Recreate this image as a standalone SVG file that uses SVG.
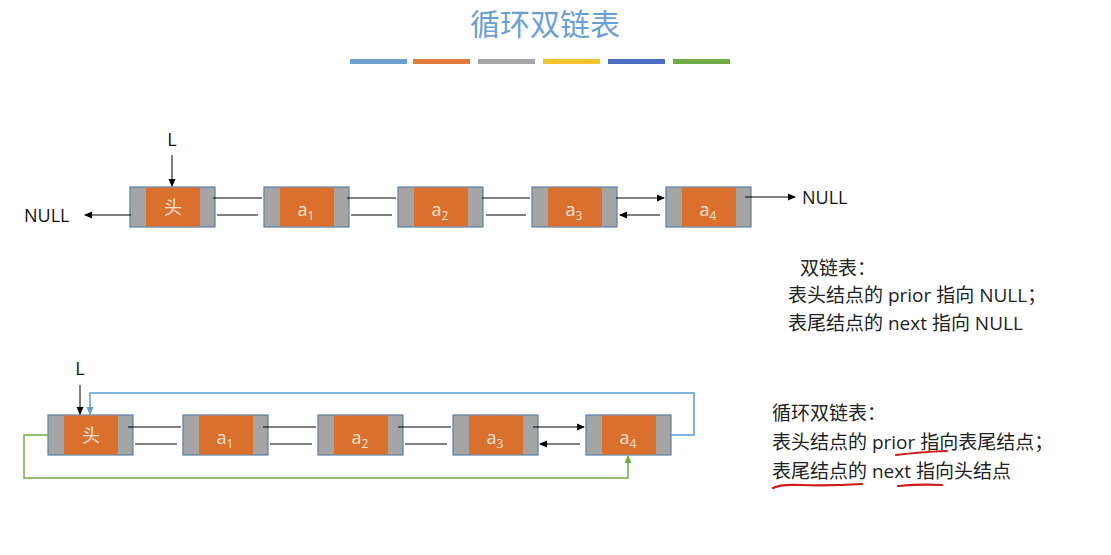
<svg xmlns="http://www.w3.org/2000/svg" width="1111" height="555" viewBox="0 0 1111 555">
<style>
.g{fill:#a5a5a5;stroke:#5b7fa6;stroke-width:1.2}
.o{fill:#d9702e}
.nt{font-family:"Open Sans","Noto Sans CJK SC",sans-serif;font-size:18px;fill:#f5e0d0;text-anchor:middle}
.sub{font-size:12px}
.t{font-family:"Open Sans","Noto Sans CJK SC",sans-serif;font-size:19px;fill:#222}
.a{stroke:#000;stroke-width:1;fill:none;marker-end:url(#ah)}
</style>
<defs>
<marker id="ah" markerWidth="8" markerHeight="8" refX="7" refY="4" orient="auto" markerUnits="userSpaceOnUse"><path d="M0,0.5 L8,4 L0,7.5z" fill="#000"/></marker>
<marker id="ab" markerWidth="8" markerHeight="8" refX="7" refY="4" orient="auto" markerUnits="userSpaceOnUse"><path d="M0,0.5 L8,4 L0,7.5z" fill="#5b9bd5"/></marker>
<marker id="ag" markerWidth="8" markerHeight="8" refX="7" refY="4" orient="auto" markerUnits="userSpaceOnUse"><path d="M0,0.5 L8,4 L0,7.5z" fill="#70ad47"/></marker>
<g id="n"><rect class="g" x="0" y="0" width="85" height="40"/><rect class="o" x="16" y="0.6" width="54" height="38.8"/></g>
</defs>
<text x="545" y="35" font-family="Noto Sans CJK SC,sans-serif" font-size="30" fill="#6b9fd4" text-anchor="middle">循环双链表</text>
<g id="bars">
<rect x="350" y="59" width="57" height="5" fill="#6fa0d0"/>
<rect x="413" y="59" width="57" height="5" fill="#e07b39"/>
<rect x="478" y="59" width="57" height="5" fill="#a5a5a5"/>
<rect x="543" y="59" width="57" height="5" fill="#f2c12e"/>
<rect x="608" y="59" width="57" height="5" fill="#4a6fc0"/>
<rect x="673" y="59" width="57" height="5" fill="#70ad47"/>
</g>
<g id="t0"><use href="#n" x="130" y="187"/><text class="nt" x="173" y="214">头</text></g>
<g id="t1"><use href="#n" x="264" y="187"/><text class="nt" x="306" y="216">a<tspan class="sub" dy="4">1</tspan></text></g>
<g id="t2"><use href="#n" x="398" y="187"/><text class="nt" x="440" y="216">a<tspan class="sub" dy="4">2</tspan></text></g>
<g id="t3"><use href="#n" x="532" y="187"/><text class="nt" x="574" y="216">a<tspan class="sub" dy="4">3</tspan></text></g>
<g id="t4"><use href="#n" x="666" y="187"/><text class="nt" x="708" y="216">a<tspan class="sub" dy="4">4</tspan></text></g>
<g id="b0"><use href="#n" x="48" y="415"/><text class="nt" x="91" y="442">头</text></g>
<g id="b1"><use href="#n" x="183" y="415"/><text class="nt" x="225" y="444">a<tspan class="sub" dy="4">1</tspan></text></g>
<g id="b2"><use href="#n" x="318" y="415"/><text class="nt" x="360" y="444">a<tspan class="sub" dy="4">2</tspan></text></g>
<g id="b3"><use href="#n" x="453" y="415"/><text class="nt" x="495" y="444">a<tspan class="sub" dy="4">3</tspan></text></g>
<g id="b4"><use href="#n" x="586" y="415"/><text class="nt" x="628" y="444">a<tspan class="sub" dy="4">4</tspan></text></g>
<g id="labels" font-family="Open Sans,sans-serif" font-size="18" fill="#111">
<text x="172" y="146" text-anchor="middle">L</text>
<text x="80" y="375" text-anchor="middle">L</text>
<text x="24" y="222">NULL</text>
<text x="802" y="204">NULL</text>
</g>
<g id="connectors">
<path class="a" d="M172,155V186"/>
<path class="a" d="M80,385V414"/>
<path class="a" d="M131,215H85"/>
<path class="a" d="M745,197H795"/>
<path class="a" d="M213,198H262M347,198H396M482,198H530M616,198H664"/>
<path class="a" d="M258,215H217M392,215H351M526,215H486M660,215H620"/>
<path class="a" d="M128,427H181M263,427H316M398,427H451M533,427H584"/>
<path class="a" d="M177,444H135M312,444H270M447,444H405M580,444H540"/>
<path d="M671,435H694V393H90V414" fill="none" stroke="#5b9bd5" stroke-width="1.5" marker-end="url(#ab)"/>
<path d="M48,435H24V478H628V456" fill="none" stroke="#70ad47" stroke-width="1.5" marker-end="url(#ag)"/>
</g>
<g id="notes" class="t">
<text class="t" x="800" y="275">双链表：</text>
<text class="t" x="788" y="302">表头结点的 prior 指向 NULL；</text>
<text class="t" x="788" y="330">表尾结点的 next 指向 NULL</text>
<text class="t" x="772" y="420">循环双链表：</text>
<text class="t" x="772" y="449">表头结点的 prior 指向表尾结点；</text>
<text class="t" x="772" y="478">表尾结点的 next 指向头结点</text>
</g>
<g id="marks" fill="none" stroke="#d01818" stroke-width="2.2" stroke-linecap="round">
<path d="M896,455Q920,452 947,451"/>
<path d="M773,488Q780,484 800,485Q830,486 862,484"/>
<path d="M898,486Q920,484 942,485"/>
</g>
</svg>
